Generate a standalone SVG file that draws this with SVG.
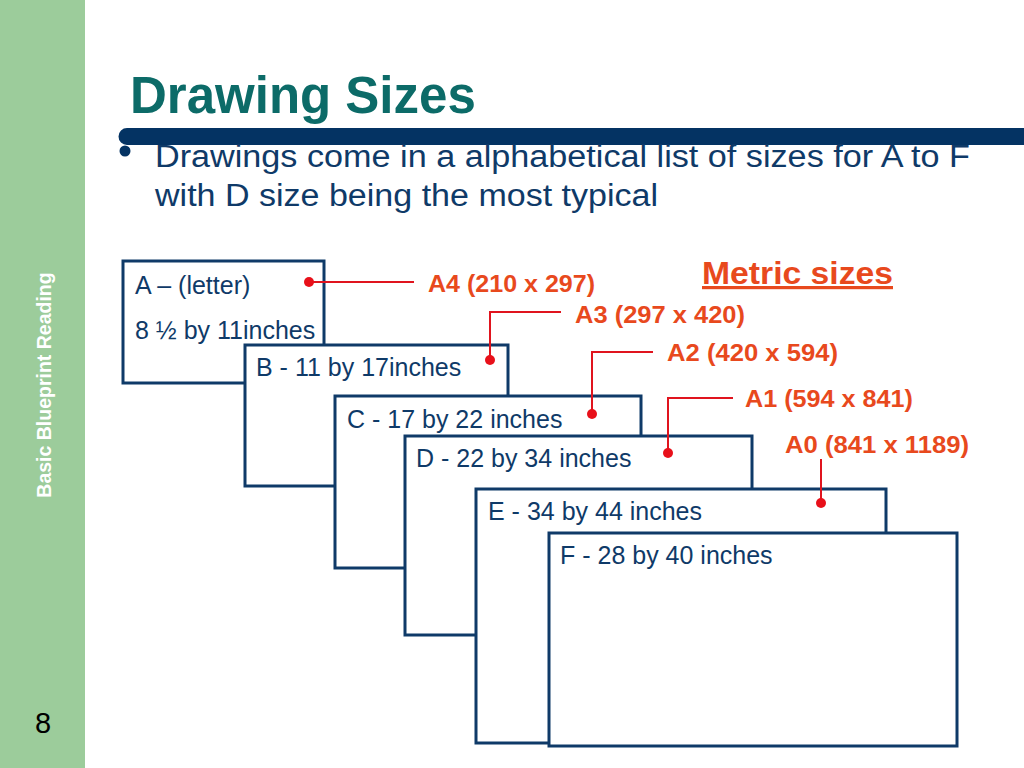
<svg xmlns="http://www.w3.org/2000/svg" width="1024" height="768" viewBox="0 0 1024 768">
<defs>
<style>
.box{fill:#fff;stroke:#0f3a68;stroke-width:3}
.bt{font-family:"Liberation Sans",Arial,sans-serif;font-size:25px;fill:#0f3a68}
.rl{font-family:"Liberation Sans",Arial,sans-serif;font-size:24px;font-weight:bold;fill:#e8491d}
.cn{fill:none;stroke:#e0141e;stroke-width:2}
.dot{fill:#e8101a}
</style>
</defs>
<rect width="1024" height="768" fill="#fff"/>
<rect x="0" y="0" width="85" height="768" fill="#9ccc9b"/>
<text transform="translate(51,385) rotate(-90)" text-anchor="middle" font-family="Liberation Sans,Arial,sans-serif" font-size="19.5" font-weight="bold" fill="#fff">Basic Blueprint Reading</text>
<text x="43" y="733" text-anchor="middle" font-family="Liberation Sans,Arial,sans-serif" font-size="29" fill="#000">8</text>
<text x="130" y="113" font-family="Liberation Sans,Arial,sans-serif" font-size="51" font-weight="bold" fill="#0c6b68">Drawing Sizes</text>
<path d="M127,128 H1024 V145 H127 A8.5,8.5 0 0 1 127,128 Z" fill="#043363"/>
<circle cx="125" cy="151" r="5.5" fill="#043363"/>
<text font-family="Liberation Sans,Arial,sans-serif" font-size="31" fill="#0f3a68"><tspan x="155" y="167" textLength="815" lengthAdjust="spacingAndGlyphs">Drawings come in a alphabetical list of sizes for A to F</tspan><tspan x="155" y="206" textLength="503" lengthAdjust="spacingAndGlyphs">with D size being the most typical</tspan></text>
<g id="nodeA"><rect class="box" x="123" y="261" width="201" height="122"/><text class="bt" x="135" y="294">A – (letter)</text><text class="bt" x="135" y="339">8 ½ by 11inches</text></g>
<g id="nodeB"><rect class="box" x="245" y="345" width="263" height="141"/><text class="bt" x="256" y="376">B - 11 by 17inches</text></g>
<g id="nodeC"><rect class="box" x="335" y="396" width="306" height="172"/><text class="bt" x="347" y="428">C - 17 by 22 inches</text></g>
<g id="nodeD"><rect class="box" x="405" y="436" width="347" height="199"/><text class="bt" x="416" y="467">D - 22 by 34 inches</text></g>
<g id="nodeE"><rect class="box" x="476" y="489" width="410" height="254"/><text class="bt" x="488" y="520">E - 34 by 44 inches</text></g>
<g id="nodeF"><rect class="box" x="549" y="533" width="408" height="213"/><text class="bt" x="560" y="564">F - 28 by 40 inches</text></g>
<g id="connectors">
<path class="cn" d="M309,282 H414"/><circle class="dot" cx="309" cy="282" r="5"/>
<path class="cn" d="M490,360 V312 H561"/><circle class="dot" cx="490" cy="360" r="5"/>
<path class="cn" d="M592,414 V352 H653"/><circle class="dot" cx="592" cy="414" r="5"/>
<path class="cn" d="M668,453 V398 H733"/><circle class="dot" cx="668" cy="453" r="5"/>
<path class="cn" d="M821,503 V459"/><circle class="dot" cx="821" cy="503" r="5"/>
</g>
<g id="labels">
<text class="rl" x="428" y="292" textLength="167" lengthAdjust="spacingAndGlyphs">A4 (210 x 297)</text>
<text class="rl" x="575" y="323" textLength="170" lengthAdjust="spacingAndGlyphs">A3 (297 x 420)</text>
<text class="rl" x="667" y="361" textLength="171" lengthAdjust="spacingAndGlyphs">A2 (420 x 594)</text>
<text class="rl" x="745" y="407" textLength="168" lengthAdjust="spacingAndGlyphs">A1 (594 x 841)</text>
<text class="rl" x="785" y="453" textLength="184" lengthAdjust="spacingAndGlyphs">A0 (841 x 1189)</text>
<text x="702" y="284" font-family="Liberation Sans,Arial,sans-serif" font-size="32" font-weight="bold" fill="#e8491d" text-decoration="underline" textLength="191" lengthAdjust="spacingAndGlyphs">Metric sizes</text>
</g>
</svg>
